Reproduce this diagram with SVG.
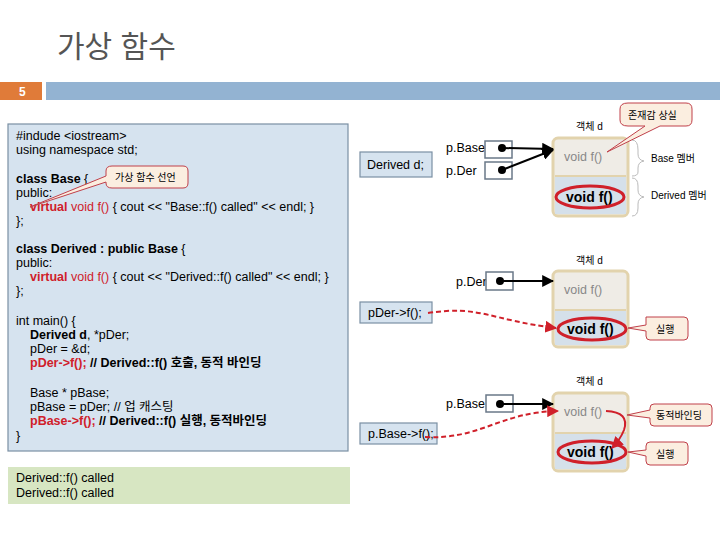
<svg xmlns="http://www.w3.org/2000/svg" width="720" height="540" viewBox="0 0 720 540">
<defs>
<marker id="ab" viewBox="0 0 10 10" refX="9" refY="5" markerWidth="6" markerHeight="6" orient="auto"><path d="M0,0L10,5L0,10z" fill="#000"/></marker>
<marker id="ar" viewBox="0 0 10 10" refX="9" refY="5" markerWidth="6" markerHeight="6" orient="auto"><path d="M0,0L10,5L0,10z" fill="#d0202a"/></marker>
<marker id="dot" viewBox="0 0 10 10" refX="5" refY="5" markerWidth="5" markerHeight="5"><circle cx="5" cy="5" r="4" fill="#000"/></marker>
</defs>
<style>
text{font-family:"Liberation Sans","Noto Sans CJK KR",sans-serif;fill:#000}
.c{font-size:12.5px}
.b{font-weight:bold}
.r{fill:#d0202a}
.box{fill:#d6e3ef;stroke:#7a8fa3;stroke-width:1.2}
.ptr{fill:#fff;stroke:#6a7888;stroke-width:1.5}
.call{fill:#fbeee0;stroke:#c0404a;stroke-width:1}
.obj{fill:#efece6;stroke:#e2d3ad;stroke-width:3}
.low{fill:#d5e0ea}
.g{fill:#888;font-size:12.5px}
.vf{font-size:14px;font-weight:bold}
.el{fill:none;stroke:#d0202a;stroke-width:3}
.ar{stroke:#000;stroke-width:2;fill:none;marker-end:url(#ab);marker-start:url(#dot)}
.dr{stroke:#d0202a;stroke-width:2;fill:none;stroke-dasharray:5,3;marker-end:url(#ar)}
.br{fill:none;stroke:#bbb;stroke-width:1}
.s{font-size:10px}
</style>
<text x="57" y="57" font-size="30" style="fill:#555">가상 함수</text>
<rect x="0" y="82" width="42" height="18" fill="#e07b39"/>
<text x="19" y="96" font-size="12" class="b" style="fill:#fff">5</text>
<rect x="46" y="82" width="674" height="18" fill="#93b3d2"/>

<g id="code">
<rect x="8" y="124" width="340" height="327" class="box"/>
<text class="c" x="16" y="140">#indude &lt;iostream&gt;</text>
<text class="c" x="16" y="154">using namespace std;</text>
<text class="c" x="16" y="183"><tspan class="b">class Base</tspan> {</text>
<text class="c" x="16" y="197">public:</text>
<text class="c" x="30" y="211"><tspan class="b r">virtual</tspan><tspan class="r"> void f()</tspan> { cout &lt;&lt; "Base::f() called" &lt;&lt; endl; }</text>
<text class="c" x="16" y="225">};</text>
<text class="c" x="16" y="253"><tspan class="b">class Derived : public Base</tspan> {</text>
<text class="c" x="16" y="267">public:</text>
<text class="c" x="30" y="281"><tspan class="b r">virtual</tspan><tspan class="r"> void f()</tspan> { cout &lt;&lt; "Derived::f() called" &lt;&lt; endl; }</text>
<text class="c" x="16" y="295">};</text>
<text class="c" x="16" y="325">int main() {</text>
<text class="c" x="30" y="339"><tspan class="b">Derived d</tspan>, *pDer;</text>
<text class="c" x="30" y="353">pDer = &amp;d;</text>
<text class="c" x="30" y="367"><tspan class="b r">pDer-&gt;f();</tspan><tspan class="b">    // Derived::f() 호출, 동적 바인딩</tspan></text>
<text class="c" x="30" y="397">Base * pBase;</text>
<text class="c" x="30" y="411">pBase = pDer; // 업 캐스팅</text>
<text class="c" x="30" y="425"><tspan class="b r">pBase-&gt;f();</tspan><tspan class="b">  // Derived::f() 실행, 동적바인딩</tspan></text>
<text class="c" x="16" y="440">}</text>
</g>
<g id="output">
<rect x="8" y="467" width="342" height="37" fill="#d7e6c2"/>
<text class="c" x="16" y="482">Derived::f() called</text>
<text class="c" x="16" y="497">Derived::f() called</text>
</g>
<g id="callout-virtual">
<path d="M112,166H183Q188,166 188,171V183Q188,188 183,188H112Q106,188 106,183V182L30,207L106,176V171Q106,166 112,166Z" class="call"/>
<text class="s" x="115" y="181">가상 함수 선언</text>
</g>

<g id="top">
<rect x="360" y="152" width="72" height="25" class="box"/>
<text class="c" x="367" y="169">Derived d;</text>
<text class="c" x="446" y="152">p.Base</text>
<text class="c" x="446" y="175">p.Der</text>
<rect x="485" y="141" width="27" height="17" class="ptr"/>
<rect x="485" y="162" width="27" height="17" class="ptr"/>
<text class="s" x="576" y="130">객체 d</text>
<rect x="553" y="138" width="75" height="78" rx="5" class="obj"/>
<rect x="555" y="176" width="71" height="38" class="low"/>
<line x1="555" y1="176" x2="626" y2="176" stroke="#e2d3ad" stroke-width="2"/>
<text class="g" x="564" y="161">void f()</text>
<text class="vf" x="566" y="202">void f()</text>
<ellipse cx="590" cy="197" rx="34" ry="11" class="el"/>
<path d="M632,140q6,0 6,10v4q0,6 6,7q-6,1-6,7v4q0,4-6,4" class="br"/>
<path d="M632,178q6,0 6,8v4q0,6 6,7q-6,1-6,7v4q0,8-6,8" class="br"/>
<text class="s" x="651" y="162">Base 멤버</text>
<text class="s" x="651" y="199">Derived 멤버</text>
<path d="M628,103H686Q692,103 692,109V120Q692,126 686,126H660L607,152L645,126H628Q620,126 620,120V109Q620,103 628,103Z" class="call"/>
<text class="s" x="628" y="119">존재감 상실</text>
</g>

<g id="mid">
<text class="s" x="576" y="264">객체 d</text>
<rect x="553" y="271" width="75" height="76" rx="5" class="obj"/>
<rect x="555" y="310" width="71" height="35" class="low"/>
<line x1="555" y1="310" x2="626" y2="310" stroke="#e2d3ad" stroke-width="2"/>
<text class="g" x="564" y="294">void f()</text>
<text class="vf" x="567" y="334">void f()</text>
<ellipse cx="592" cy="329" rx="34" ry="11" class="el"/>
<text class="c" x="456" y="286">p.Der</text>
<rect x="486" y="272" width="27" height="18" class="ptr"/>
<rect x="360" y="302" width="72" height="21" class="box"/>
<text class="c" x="368" y="317">pDer-&gt;f();</text>
<path d="M646,317H684Q688,317 688,321V336Q688,340 684,340H650Q646,340 646,336V331L628,328L646,325Z" class="call"/>
<text class="s" x="656" y="333">실행</text>
</g>

<g id="bot">
<text class="s" x="576" y="385">객체 d</text>
<rect x="553" y="393" width="75" height="78" rx="5" class="obj"/>
<rect x="555" y="433" width="71" height="36" class="low"/>
<line x1="555" y1="433" x2="626" y2="433" stroke="#e2d3ad" stroke-width="2"/>
<text class="g" x="564" y="416">void f()</text>
<text class="vf" x="567" y="457">void f()</text>
<ellipse cx="592" cy="452" rx="34" ry="11" class="el"/>
<text class="c" x="446" y="408">p.Base</text>
<rect x="486" y="395" width="27" height="17" class="ptr"/>
<rect x="360" y="423" width="77" height="21" class="box"/>
<text class="c" x="368" y="438">p.Base-&gt;f();</text>
<path d="M654,404H708Q712,404 712,408V422Q712,426 708,426H654Q650,426 650,422V418L627,415L650,410V408Q650,404 654,404Z" class="call"/>
<text class="s" x="656" y="419">동적바인딩</text>
<path d="M650,442H684Q688,442 688,446V461Q688,465 684,465H650Q646,465 646,461V456L628,452L646,450V446Q646,442 650,442Z" class="call"/>
<text class="s" x="656" y="458">실행</text>
</g>

<g id="connectors">
<line x1="502" y1="148" x2="553" y2="149" class="ar"/>
<line x1="502" y1="170" x2="553" y2="150" class="ar"/>
<line x1="500" y1="281" x2="553" y2="281" class="ar"/>
<line x1="500" y1="404" x2="553" y2="404" class="ar"/>
<path d="M428,313C480,305 490,320 556,328" class="dr"/>
<path d="M425,437C480,440 500,412 558,411" class="dr"/>
<path d="M606,411Q630,412 624,430Q620,440 612,448" stroke="#d0202a" stroke-width="2" fill="none" marker-end="url(#ar)"/>
</g>
</svg>
